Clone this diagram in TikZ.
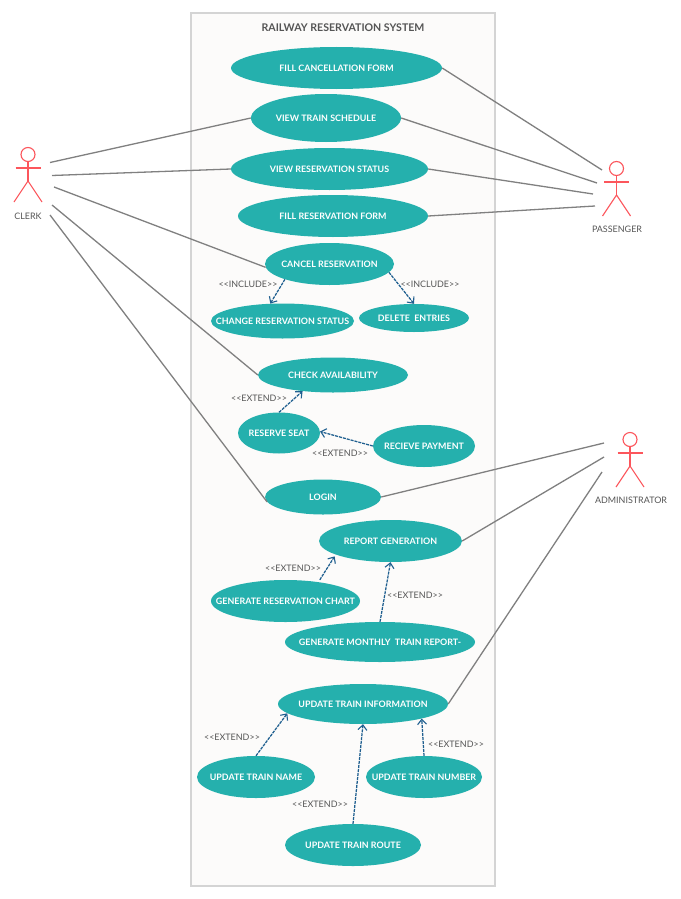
\documentclass[tikz,border=0pt]{standalone}
\usepackage{fontspec}
\setmainfont{Lato}
\usetikzlibrary{shapes.geometric,arrows.meta}
\definecolor{teal1}{HTML}{25B0AD}
\definecolor{gray1}{HTML}{808080}
\definecolor{dash1}{HTML}{1F5F8F}
\definecolor{txt1}{HTML}{555555}
\definecolor{act1}{HTML}{FC565C}
\definecolor{frame1}{HTML}{FCFBFA}
\definecolor{frame2}{HTML}{D4D4D4}
\tikzset{
 uc/.style={ellipse,fill=teal1,draw=none,text=white,inner sep=0pt,font=\fontsize{8.9}{11}\selectfont\bfseries},
 assoc/.style={draw=gray1,line width=1.3pt},
 dep/.style={draw=dash1,line width=1.25pt,dash pattern=on 3pt off 1pt,-{Straight Barb[length=5pt,width=9pt,line width=1.1pt]}},
 actorline/.style={draw=act1,line width=1.1pt},
 lab/.style={text=txt1,inner sep=0pt,font=\fontsize{8.95}{11}\selectfont},
 actlab/.style={text=txt1,inner sep=0pt,font=\fontsize{8.95}{11}\selectfont},
}
\newcommand{\usecase}[6]{\node[uc,minimum width=#4pt,minimum height=#5pt] (#1) at (#2,#3) {\makebox[0pt]{\raisebox{-3.7pt}[0pt][0pt]{#6}}};}
\newcommand{\actorfig}[1]{%
 \begin{scope}[shift={(#1)}]
  \draw[actorline] (0,-13.5) circle (7);
  \draw[actorline] (0,-6.5) -- (0,13);
  \draw[actorline] (-12.5,0) -- (12.5,0);
  \draw[actorline] (-14,34) -- (0,13) -- (14,34);
 \end{scope}}
\begin{document}
\begin{tikzpicture}[x=1pt,y=-1pt]
\useasboundingbox (0,0) rectangle (680,899);
\fill[white] (0,0) rectangle (680,899);
\node[draw=frame2,fill=frame1,line width=1.2pt,minimum width=304pt,minimum height=873pt,inner sep=0pt] (frame) at (343,449.5) {};
\node[text=txt1,inner sep=0pt,font=\fontsize{10.6}{13}\selectfont\bfseries] (title) at (343,28) {RAILWAY RESERVATION SYSTEM};

\usecase{fcf}{336.5}{68}{211}{42}{FILL CANCELLATION FORM}
\usecase{vts}{326}{118}{150}{48}{VIEW TRAIN SCHEDULE}
\usecase{vrs}{329.5}{169}{197}{42}{VIEW RESERVATION STATUS}
\usecase{frf}{333}{216}{190}{42}{FILL RESERVATION FORM}
\usecase{can}{329.5}{264}{129}{42}{CANCEL RESERVATION}
\usecase{crs}{282.5}{321}{143}{35}{CHANGE RESERVATION STATUS}
\usecase{del}{414}{318}{110}{28}{DELETE\ \ ENTRIES}
\usecase{chk}{333}{375}{150}{35}{CHECK AVAILABILITY}
\usecase{res}{279}{433}{82}{41}{RESERVE SEAT}
\usecase{rec}{424}{446}{102}{42}{RECIEVE PAYMENT}
\usecase{log}{323}{497}{116}{35}{LOGIN}
\usecase{rep}{390.5}{541}{143}{42}{REPORT GENERATION}
\usecase{gch}{285.5}{601}{149}{42}{GENERATE RESERVATION CHART}
\usecase{gmt}{380}{642}{190}{40}{GENERATE MONTHLY\ \ TRAIN REPORT-}
\usecase{uti}{363}{704}{170}{40}{UPDATE TRAIN INFORMATION}
\usecase{utn}{256}{777}{118}{42}{UPDATE TRAIN NAME}
\usecase{utb}{424}{777}{116}{42}{UPDATE TRAIN NUMBER}
\usecase{utr}{353}{845}{136}{42}{UPDATE TRAIN ROUTE}

\coordinate (clerk) at (28,168);
\coordinate (pass) at (616.5,182);
\coordinate (admin) at (630,453);
\actorfig{clerk}\actorfig{pass}\actorfig{admin}
\node[actlab] (clerkl) at (28,216.5) {CLERK};
\node[actlab] (passl) at (617,229.5) {PASSENGER};
\node[actlab] (adminl) at (631,500.5) {ADMINISTRATOR};

\coordinate (c1) at (50,162.5);
\coordinate (c2) at (52,175.5);
\coordinate (c3) at (54,187);
\coordinate (c4) at (52,205);
\coordinate (c5) at (50,215);
\draw[assoc] (c1) -- (vts.west);
\draw[assoc] (c2) -- (vrs.west);
\draw[assoc] (c3) -- (can.183);
\draw[assoc] (c4) -- (chk.west);
\draw[assoc] (c5) -- (log.185);
\coordinate (p1) at (602,170);
\coordinate (p2) at (597,183);
\coordinate (p3) at (593,194);
\coordinate (p4) at (595,206);
\draw[assoc] (fcf.east) -- (p1);
\draw[assoc] (vts.east) -- (p2);
\draw[assoc] (vrs.east) -- (p3);
\draw[assoc] (frf.east) -- (p4);
\coordinate (a1) at (604,443);
\coordinate (a2) at (604,457);
\coordinate (a3) at (602,472);
\draw[assoc] (log.east) -- (a1);
\draw[assoc] (rep.east) -- (a2);
\draw[assoc] (uti.east) -- (a3);

\draw[dep] (can.199.4) -- (crs.125.4);
\draw[dep] (can.-8.6) -- (del.90);
\draw[dep] (res.90) -- (chk.208);
\draw[dep] (rec.west) -- (res.2);
\draw[dep,shorten <=2.5pt,shorten >=2pt] (gch.30) -- (rep.194);
\draw[dep] (gmt.90) -- (rep.-90);
\draw[dep] (utn.90) -- (uti.187);
\draw[dep] (utr.90) -- (uti.-90);
\draw[dep] (utb.90) -- (uti.-14);

\node[lab] (l1) at (248,284) {<{}<INCLUDE>{}>};
\node[lab] (l2) at (430,284) {<{}<INCLUDE>{}>};
\node[lab] (l3) at (259,398) {<{}<EXTEND>{}>};
\node[lab] (l4) at (340,453) {<{}<EXTEND>{}>};
\node[lab] (l5) at (293,568) {<{}<EXTEND>{}>};
\node[lab] (l6) at (415,595) {<{}<EXTEND>{}>};
\node[lab] (l7) at (232,737) {<{}<EXTEND>{}>};
\node[lab] (l8) at (456,744) {<{}<EXTEND>{}>};
\node[lab] (l9) at (320,804) {<{}<EXTEND>{}>};
\end{tikzpicture}
\end{document}
